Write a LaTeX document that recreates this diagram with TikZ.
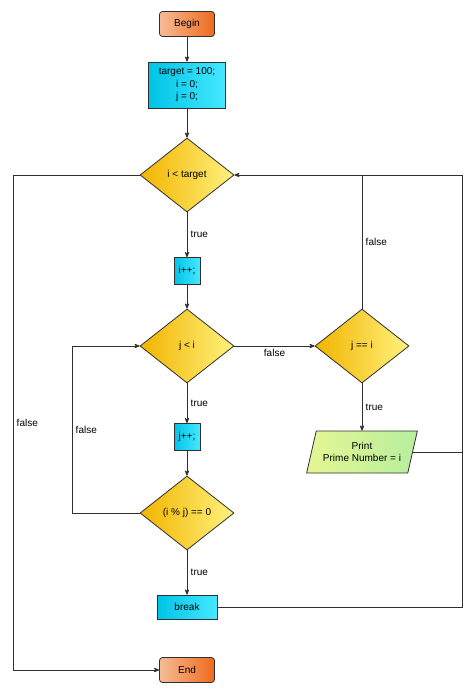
\documentclass[tikz,border=0pt]{standalone}
\usepackage{fontspec}
\setmainfont{Liberation Sans}
\usetikzlibrary{arrows,shapes.geometric}

\definecolor{boxcyan}{HTML}{00C4E6}
\definecolor{boxcyanlt}{HTML}{45E8FF}
\definecolor{decgold}{HTML}{F2B400}
\definecolor{decyellow}{HTML}{FFF27E}
\definecolor{termorange}{HTML}{EF6A1C}
\definecolor{termpeach}{HTML}{F6BC96}
\definecolor{iogreen}{HTML}{B6EE9E}
\definecolor{ioyellow}{HTML}{FAFA8E}
\definecolor{linegray}{HTML}{303030}

\tikzstyle{terminal} = [rectangle, draw, rounded corners=3pt, left color=termpeach,
    middle color=white, right color=termorange, minimum width=55pt, minimum height=25pt]
\tikzstyle{process} = [rectangle, draw, left color=boxcyan, right color=boxcyanlt,
    align=center, inner sep=2pt]
\tikzstyle{decision} = [diamond, draw, aspect=1.27, minimum width=94pt, minimum height=74pt,
    inner sep=0pt, left color=decgold, right color=decyellow]
\tikzstyle{io} = [trapezium, trapezium left angle=69, trapezium right angle=111,
    trapezium stretches=true, draw,
    left color=ioyellow!70!iogreen, middle color=ioyellow, right color=iogreen,
    align=center, minimum width=111pt, minimum height=42pt, inner xsep=1pt, inner ysep=1pt]

\begin{document}
\begin{tikzpicture}[->,>=stealth',auto,line width=0.8pt,draw=linegray,
                    every node/.style={font=\fontsize{10}{12.5}\selectfont}]
  \useasboundingbox (0,0) rectangle (474pt,-696pt);

  \node[terminal]                          (Begin) at (187pt,-24pt) {Begin};
  \node[process,minimum width=77pt,minimum height=46pt]
        [below of=Begin,node distance=61pt] (Init)  {target = 100;\\ i = 0;\\ j = 0;};
  \node[decision] [below of=Init,node distance=90pt]  (Outer) {i {\textless} target};
  \node[process,minimum width=26pt,minimum height=27pt]
        [below of=Outer,node distance=96pt] (IncI)  {i++;};
  \node[decision] [below of=IncI,node distance=75pt]  (Inner) {j {\textless} i};
  \node[process,minimum width=26pt,minimum height=27pt]
        [below of=Inner,node distance=91pt] (IncJ)  {j++;};
  \node[decision] [below of=IncJ,node distance=76pt]  (Mod)   {(i \% j) == 0};
  \node[process,minimum width=60pt,minimum height=24pt]
        [below of=Mod,node distance=94pt]   (Brk)   {break};
  \node[terminal] [below of=Brk,node distance=63pt]   (End)   {End};
  \node[decision] [right of=Inner,node distance=175pt] (Prime) {j == i};
  \node[io]       [below of=Prime,node distance=106pt] (Print) {Print\\ Prime Number = i};

  \coordinate (LeftOut)  at (13pt,-175pt);
  \coordinate (LeftIn)   at (72pt,-513pt);
  \coordinate (RightUp)  at (462pt,-175pt);

  \path (Begin) edge              (Init)
        (Init)  edge              (Outer)
        (Outer) edge node {true}  (IncI)
        (IncI)  edge              (Inner)
        (Inner) edge node {true}  (IncJ)
        (IncJ)  edge              (Mod)
        (Mod)   edge node {true}  (Brk)
        (Inner) edge node[swap] {false} (Prime)
        (Prime) edge node {true}  (Print);

  \draw (Outer.west) -- (LeftOut) |- node[pos=0.25] {false} (End.west);
  \draw (Mod.west) -- (LeftIn) |- node[pos=0.25,swap] {false} (Inner.west);
  \draw (Brk.east) -| (RightUp) -- (Outer.east);
  \draw[-] (Print.east) -- (Print.east -| RightUp);
  \draw[-] (Prime.north) -- node[swap] {false} (Prime.north |- RightUp);
\end{tikzpicture}
\end{document}
